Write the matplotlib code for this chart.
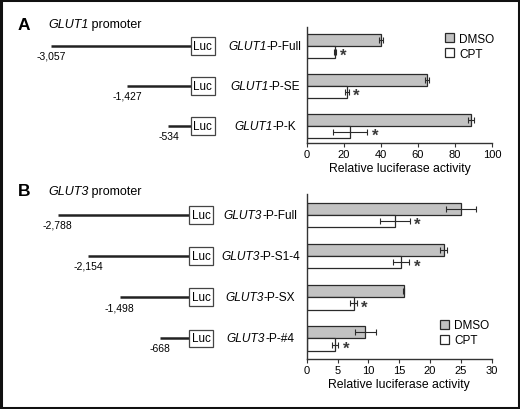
import matplotlib
matplotlib.use("Agg")
import matplotlib.pyplot as plt
from matplotlib.patches import Rectangle
from matplotlib.text import Annotation
from matplotlib.transforms import ScaledTranslation
import numpy as np

plt.rcParams['font.family'] = ['Liberation Sans', 'DejaVu Sans']

# ---------------- data ----------------
glut1_gene = 'GLUT1'
glut1_names = ['-P-Full', '-P-SE', '-P-K']
glut1_start = [-3057, -1427, -534]
glut1_dmso = [40, 65, 88.5]
glut1_dmso_err = [1.0, 1.0, 1.5]
glut1_cpt = [15, 21.5, 23.5]
glut1_cpt_err = [0.5, 1.2, 9.2]

glut3_gene = 'GLUT3'
glut3_names = ['-P-Full', '-P-S1-4', '-P-SX', '-P-#4']
glut3_start = [-2788, -2154, -1498, -668]
glut3_dmso = [25, 22.2, 15.7, 9.5]
glut3_dmso_err = [2.4, 0.6, 0.1, 1.7]
glut3_cpt = [14.3, 15.3, 7.6, 4.6]
glut3_cpt_err = [2.4, 1.3, 0.5, 0.5]

series = ['DMSO', 'CPT']
xticks_A = [0, 20, 40, 60, 80, 100]
xticks_B = [0, 5, 10, 15, 20, 25, 30]
xlabel = 'Relative luciferase activity'

W, H = 520, 410
fig = plt.figure(figsize=(W / 100, H / 100), dpi=100)
renderer = fig.canvas.get_renderer()

EDGE = '#2a2a2a'
GRAY = '#c2c2c2'

def rect(l, t, r, b):
    return [l / W, 1 - b / H, (r - l) / W, (b - t) / H]

def mixed_text(ax, x, y, ital, rest, fs):
    tr = ax.transData
    t1 = ax.text(x, y, ital, fontstyle='italic', fontsize=fs, ha='left', va='center', transform=tr)
    t2 = ax.annotate(rest, xy=(1, 0), xycoords=t1, ha='left', va='bottom', fontsize=fs)
    w = t1.get_window_extent(renderer).width + t2.get_window_extent(renderer).width
    t1.set_transform(tr + ScaledTranslation(-w / 2 / fig.dpi, 0, fig.dpi_scale_trans))

def bar_panel(ax, dmso, derr, cpt, cerr, ylim, xmax, xticks, legend_anchor):
    n = len(dmso)
    y = np.arange(n)
    h = 0.3
    ax.barh(y - h / 2, dmso, height=h, color=GRAY, edgecolor=EDGE, linewidth=0.9, label=series[0], zorder=2)
    ax.barh(y + h / 2, cpt, height=h, color='white', edgecolor=EDGE, linewidth=0.9, label=series[1], zorder=2)
    ax.errorbar(dmso, y - h / 2, xerr=derr, fmt='none', ecolor=EDGE, elinewidth=0.8, capsize=2.2, capthick=0.8, zorder=3)
    ax.errorbar(cpt, y + h / 2, xerr=cerr, fmt='none', ecolor=EDGE, elinewidth=0.8, capsize=2.2, capthick=0.8, zorder=3)
    for v, e, yy in zip(cpt, cerr, y + h / 2):
        ax.annotate('*', xy=(v + e, yy), xytext=(5.5, -2.5), textcoords='offset points',
                    ha='center', va='center', fontsize=12, fontweight='bold', color='#3a3a3a')
    ax.set_ylim(*ylim)
    ax.set_xlim(0, xmax)
    ax.set_xticks(xticks)
    ax.set_yticks([])
    for s in ['top', 'right']:
        ax.spines[s].set_visible(False)
    for s in ['left', 'bottom']:
        ax.spines[s].set_color('#333333')
        ax.spines[s].set_linewidth(1.0)
    ax.tick_params(axis='x', length=3, width=0.8, pad=1.5, labelsize=8, color='#333333')
    ax.set_xlabel(xlabel, fontsize=8.8, labelpad=2)
    ax.legend(loc='upper left', bbox_to_anchor=legend_anchor, frameon=False, fontsize=8.5,
              handlelength=0.75, handleheight=0.75, handletextpad=0.45, labelspacing=0.25,
              borderpad=0, borderaxespad=0)

def diagram(ax, gene, starts, names, ylim, origin_px, scale, label_px, width_px):
    ax.set_xlim(-origin_px / scale, (width_px - origin_px) / scale)
    ax.set_ylim(*ylim)
    ax.axis('off')
    for i, (s, nm) in enumerate(zip(starts, names)):
        ax.plot([s, 0], [i, i], color='#222222', lw=1.8, solid_capstyle='butt', zorder=1)
        ax.text(0, i, 'Luc', ha='left', va='center', fontsize=8.4, zorder=3,
                bbox=dict(boxstyle='square,pad=0.24', fc='white', ec='#444444', lw=0.9))
        ax.annotate(f'{s:,}', xy=(s, i), xytext=(0, -7), textcoords='offset points',
                    ha='center', va='center', fontsize=7.5)
        mixed_text(ax, (label_px - origin_px) / scale, i, gene, nm, 8.6)

# Panel A
ylimA = (2.43, -0.48)
axA = fig.add_axes(rect(307, 28, 492, 144))
bar_panel(axA, glut1_dmso, glut1_dmso_err, glut1_cpt, glut1_cpt_err, ylimA, 100, xticks_A, (0.745, 0.95))
dA = fig.add_axes(rect(0, 28, 307, 144), zorder=-1)
diagram(dA, glut1_gene, glut1_start, glut1_names, ylimA, 193.3, 0.0465, 265, 307)

# Panel B
ylimB = (3.5, -0.51)
axB = fig.add_axes(rect(306.7, 195, 491.7, 360))
bar_panel(axB, glut3_dmso, glut3_dmso_err, glut3_cpt, glut3_cpt_err, ylimB, 30, xticks_B, (0.72, 0.24))
dB = fig.add_axes(rect(0, 195, 306.7, 360), zorder=-1)
diagram(dB, glut3_gene, glut3_start, glut3_names, ylimB, 191.7, 0.048, 260.5, 306.7)

# Titles
fig.text(18 / W, 1 - 25 / H, 'A', fontsize=12.5, fontweight='bold', ha='left', va='center')
fig.text(18 / W, 1 - 192 / H, 'B', fontsize=12.5, fontweight='bold', ha='left', va='center')
t1 = fig.text(48 / W, 1 - 25 / H, glut1_gene, fontsize=9, fontstyle='italic', ha='left', va='center')
t3 = fig.text(48 / W, 1 - 192 / H, glut3_gene, fontsize=9, fontstyle='italic', ha='left', va='center')
for t in (t1, t3):
    fig.add_artist(Annotation(' promoter', xy=(1, 0), xycoords=t, ha='left', va='bottom', fontsize=9))

# Outer frame
fig.patches.append(Rectangle((0.002, 0.002), 0.996, 0.995, transform=fig.transFigure,
                             fill=False, ec='#111111', lw=2.2))

fig.savefig('out.png', dpi=100)
